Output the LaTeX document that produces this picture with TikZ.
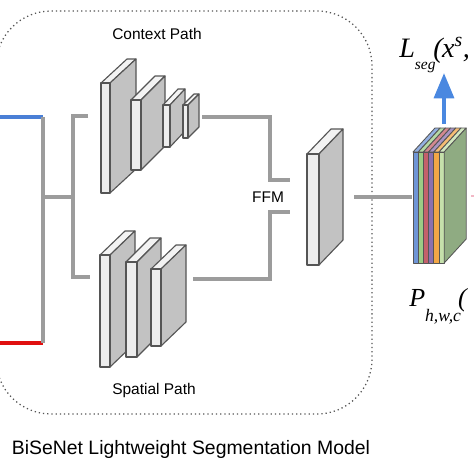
\documentclass[tikz,border=0pt]{standalone}
\usepackage[no-math]{fontspec}
\setmainfont{Liberation Sans}
\newfontfamily\tmsfont{Liberation Serif}
\usetikzlibrary{arrows.meta}
\definecolor{linkgray}{HTML}{9C9C9C}
\definecolor{edgegray}{HTML}{555555}
\definecolor{slabfront}{HTML}{EDEDED}
\definecolor{slabtop}{HTML}{F3F3F3}
\definecolor{slabside}{HTML}{C2C2C2}
\definecolor{rgbblue}{HTML}{4A7FD6}
\definecolor{depred}{HTML}{E01010}
\definecolor{lossblue}{HTML}{4A88E0}
\definecolor{segblue}{HTML}{6F95D6}
\definecolor{seggreen}{HTML}{9CCB85}
\definecolor{segred}{HTML}{C4606A}
\definecolor{segpurple}{HTML}{8C70AE}
\definecolor{segorange}{HTML}{F2A646}
\definecolor{seglight}{HTML}{C5E0AB}
\definecolor{segside}{HTML}{8FAB82}
\definecolor{pinkish}{HTML}{F2B8C6}
\newcommand{\lowsub}[3]{\raisebox{-#1}{\fontsize{#2}{#2}\selectfont #3}}
\tikzset{
  % blokken
  slabface/.style={draw=edgegray,line width=0.8pt,line join=round},
  pics/slab/.style n args={4}{code={
    \filldraw[slabface,fill=slabtop] (0,0) -- (#3,-#4) -- (#1+#3,-#4) -- (#1,0) -- cycle;
    \filldraw[slabface,fill=slabside] (#1,0) -- (#1+#3,-#4) -- (#1+#3,#2-#4) -- (#1,#2) -- cycle;
    \filldraw[slabface,fill=slabfront] (0,0) rectangle (#1,#2);
  }},
  segface/.style={draw=edgegray,line width=0.6pt,line join=round},
  % lijnen
  link/.style={draw=linkgray,line width=2.8pt},
  inrgb/.style={draw=rgbblue,line width=2.4pt},
  indep/.style={draw=depred,line width=2.4pt},
  lossarrow/.style={draw=lossblue,line width=3pt,
    -{Triangle[length=18pt,width=14pt]}},
  modelbox/.style={draw=edgegray,line width=0.9pt,dash pattern=on 0.9pt off 2.1pt,
    rounded corners=1.375cm},
  % tekst
  lbl/.style={font=\fontsize{11}{13}\selectfont,inner sep=0pt},
  mathlbl/.style={anchor=base west,inner sep=0pt},
}
\begin{document}
\begin{tikzpicture}[x=0.025cm,y=-0.025cm]
  \useasboundingbox (0,0) rectangle (474,474);
  \begin{scope}
  \clip (0,0) rectangle (474,474);
  \draw[modelbox] (-4,11) rectangle (372,414);
  \node[lbl] (ctxlbl) at (157,34) {Context Path};
  \node[lbl] (spatlbl) at (154,390) {Spatial Path};
  \node[lbl] (ffmlbl) at (268,197) {FFM};
  \node[lbl,font=\fontsize{13.8}{16}\selectfont] (title) at (191,449)
    {BiSeNet Lightweight Segmentation Model};
  % ingang
  \coordinate (rgb) at (-5,117);
  \coordinate (dep) at (-5,343);
  \coordinate (jt) at (43,117);
  \coordinate (jb) at (43,343);
  \coordinate (jm) at (43,197);
  \coordinate (fork) at (73,197);
  \coordinate (cpin) at (88,116);
  \coordinate (spin) at (90,277);
  \coordinate (cpout) at (202,117);
  \coordinate (spout) at (193,279);
  \coordinate (ffmt) at (290,180);
  \coordinate (ffmb) at (290,212);
  \coordinate (fout) at (354,197);
  \coordinate (pin) at (412,197);
  \coordinate (ptop) at (444,124);
  \coordinate (lossin) at (444,73);
  \draw[inrgb] (rgb) -- (jt);
  \draw[indep] (dep) -- (jb);
  \draw[link] (jt) -- (jb);
  \draw[link] (jm) -- (fork);
  \draw[link] (cpin) -| (fork) |- (spin);
  \draw[link] (cpout) -- ++(68,0) |- (ffmt);
  \draw[link] (spout) -- ++(77,0) |- (ffmb);
  \draw[link] (fout) -- (pin);
  \draw[draw=pinkish,line width=2pt] (471,196) -- (478,196);
  % context path
  \pic (c1) at (101,83) {slab={9}{110}{26}{24}};
  \pic (c2) at (131,100) {slab={10}{70}{24}{24}};
  \pic (c3) at (163,105) {slab={7}{42}{15}{16}};
  \pic (c4) at (183,105) {slab={5}{33}{11}{11}};
  % spatial path
  \pic (s1) at (100,255) {slab={10}{112}{25}{24}};
  \pic (s2) at (126,262) {slab={11}{95}{24}{24}};
  \pic (s3) at (151,269) {slab={10}{77}{25}{24}};
  % ffm
  \pic (ffm) at (307,154) {slab={12}{111}{24}{25}};
  % uitgang
  \foreach \c [count=\i from 0] in {segblue,seggreen,segred,segpurple,segorange,seglight}{
    \filldraw[segface,fill=\c!75!white] (413+5.2*\i,152) -- ++(22,-24) -- ++(5.2,0) -- ++(-22,24) -- cycle;
    \filldraw[segface,fill=\c] (413+5.2*\i,152) rectangle ++(5.2,111);
  }
  \filldraw[segface,fill=segside] (444.2,152) -- (466.2,128) -- (466.2,239) -- (444.2,263) -- cycle;
  \draw[lossarrow] (ptop) -- (lossin);
  \node[mathlbl,font=\tmsfont\itshape\fontsize{20}{22}\selectfont] (loss) at (399,57)
    {L\lowsub{9pt}{11}{seg}\kern-1.5pt(\kern-0.5pt x\textsuperscript{s},};
  \node[mathlbl,font=\tmsfont\itshape\fontsize{18.5}{22}\selectfont] (prob) at (409,306)
    {P\lowsub{11pt}{12.5}{h,w,c}\kern-2pt(};
  \end{scope}
\end{tikzpicture}
\end{document}
